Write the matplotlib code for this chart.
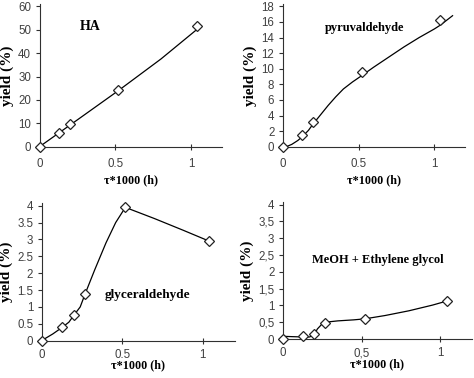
import matplotlib
matplotlib.use("Agg")
import matplotlib.pyplot as plt

# --- data ---
ha_x = [0, 0.13, 0.2, 0.52, 1.04]
ha_y = [0, 6.0, 9.5, 24.2, 51.8]
ha_line_x = [0, 0.25, 0.52, 0.8, 1.04]
ha_line_y = [0, 11.5, 24.0, 37.5, 50.3]

pyr_x = [0, 0.13, 0.2, 0.52, 1.04]
pyr_y = [0, 1.5, 3.2, 9.6, 16.3]
pyr_line_x = [0, 0.03, 0.06, 0.1, 0.13, 0.17, 0.2, 0.25, 0.3, 0.35, 0.4, 0.46, 0.52,
              0.6, 0.7, 0.8, 0.9, 1.0, 1.04, 1.12]
pyr_line_y = [0, 0.05, 0.3, 0.8, 1.3, 2.1, 2.9, 4.1, 5.3, 6.4, 7.4, 8.3, 9.1,
              10.2, 11.5, 12.8, 14.0, 15.1, 15.6, 16.8]

gly_x = [0, 0.13, 0.2, 0.27, 0.52, 1.04]
gly_y = [0, 0.4, 0.75, 1.38, 3.95, 2.95]
gly_line_x = [0, 0.07, 0.13, 0.17, 0.2, 0.24, 0.27, 0.33, 0.4, 0.46, 0.52, 0.7, 0.88, 1.04]
gly_line_y = [0, 0.2, 0.4, 0.55, 0.75, 1.0, 1.38, 2.1, 2.9, 3.5, 3.95, 3.62, 3.27, 2.95]

meoh_x = [0, 0.13, 0.2, 0.27, 0.52, 1.04]
meoh_y = [0, 0.08, 0.15, 0.47, 0.6, 1.13]
meoh_line_x = [0, 0.06, 0.13, 0.17, 0.2, 0.22, 0.25, 0.27, 0.35, 0.45, 0.52, 0.65, 0.8, 0.95, 1.04]
meoh_line_y = [0.08, 0.07, 0.06, 0.06, 0.13, 0.3, 0.45, 0.5, 0.54, 0.57, 0.6, 0.7, 0.84, 1.01, 1.13]

x_ticks = [0, 0.5, 1]
x_labels_dot = ["0", "0.5", "1"]
x_labels_comma = ["0", "0,5", "1"]
ha_yticks = [0, 10, 20, 30, 40, 50, 60]
pyr_yticks = [0, 2, 4, 6, 8, 10, 12, 14, 16, 18]
small_yticks = [0, 0.5, 1, 1.5, 2, 2.5, 3, 3.5, 4]
small_labels_dot = ["0", "0.5", "1", "1.5", "2", "2.5", "3", "3.5", "4"]
small_labels_comma = ["0", "0,5", "1", "1,5", "2", "2,5", "3", "3,5", "4"]

W, H = 474, 378
fig = plt.figure(figsize=(W / 100, H / 100), dpi=100)

serif = ["Liberation Serif", "DejaVu Serif"]
tick_col = "#404040"


def make_ax(l, r, b, t):
    return fig.add_axes([l / W, 1 - b / H, (r - l) / W, (b - t) / H])


def style(ax, xlabels, yticks, ylabels, ymax, xpad=6, xlabelpad=3):
    ax.set_xlim(0, 1.2)
    ax.set_ylim(0, ymax)
    ax.set_xticks(x_ticks)
    ax.set_xticklabels(xlabels)
    ax.set_yticks(yticks)
    ax.set_yticklabels(ylabels)
    for s in ["top", "right"]:
        ax.spines[s].set_visible(False)
    for s in ["left", "bottom"]:
        ax.spines[s].set_color("#303030")
        ax.spines[s].set_linewidth(0.8)
    ax.tick_params(axis="y", direction="out", length=3, width=0.8, colors="#303030",
                   labelsize=8.3, labelcolor=tick_col, pad=3)
    ax.tick_params(axis="x", direction="inout", length=4, width=0.8, colors="#303030",
                   labelsize=8.3, labelcolor=tick_col, pad=xpad)
    for lab in ax.get_xticklabels() + ax.get_yticklabels():
        lab.set_family(["Liberation Sans", "DejaVu Sans"])
    ax.set_xlabel("τ*1000 (h)", family=serif, fontweight="bold", fontsize=8.7,
                  labelpad=xlabelpad)
    ax.set_ylabel("yield (%)", family=serif, fontweight="bold", fontsize=11, labelpad=3)


def draw(ax, px, py, lx, ly):
    ax.plot(lx, ly, color="black", lw=0.9, zorder=2)
    ax.plot(px, py, linestyle="none", marker="D", markersize=5.5, markerfacecolor="white",
            markeredgecolor="#222222", markeredgewidth=0.9, zorder=3, clip_on=False)


ax1 = make_ax(39.5, 221.7, 146.7, 4)
style(ax1, x_labels_dot, ha_yticks, [str(v) for v in ha_yticks], 61)
draw(ax1, ha_x, ha_y, ha_line_x, ha_line_y)
ax1.text(0.276, 0.84, "HA", transform=ax1.transAxes, ha="center", va="center",
         family=serif, fontweight="bold", fontsize=10)

ax2 = make_ax(282.7, 464.7, 146.7, 4)
style(ax2, x_labels_dot, pyr_yticks, [str(v) for v in pyr_yticks], 18.3)
draw(ax2, pyr_x, pyr_y, pyr_line_x, pyr_line_y)
ax2.text(0.45, 0.83, "pyruvaldehyde", transform=ax2.transAxes, ha="center", va="center",
         family=serif, fontweight="bold", fontsize=9)

ax3 = make_ax(41.5, 235, 340.7, 203)
style(ax3, x_labels_dot, small_yticks, small_labels_dot, 4.08, xpad=4, xlabelpad=-1)
draw(ax3, gly_x, gly_y, gly_line_x, gly_line_y)
ax3.text(0.55, 0.33, "glyceraldehyde", transform=ax3.transAxes, ha="center", va="center",
         family=serif, fontweight="bold", fontsize=9.5)

ax4 = make_ax(282.7, 472, 339, 202)
style(ax4, x_labels_comma, small_yticks, small_labels_comma, 4.08, xpad=4, xlabelpad=-1)
draw(ax4, meoh_x, meoh_y, meoh_line_x, meoh_line_y)
ax4.text(0.5, 0.58, "MeOH + Ethylene glycol", transform=ax4.transAxes, ha="center",
         va="center", family=serif, fontweight="bold", fontsize=9)

fig.savefig("out.png", dpi=100)
